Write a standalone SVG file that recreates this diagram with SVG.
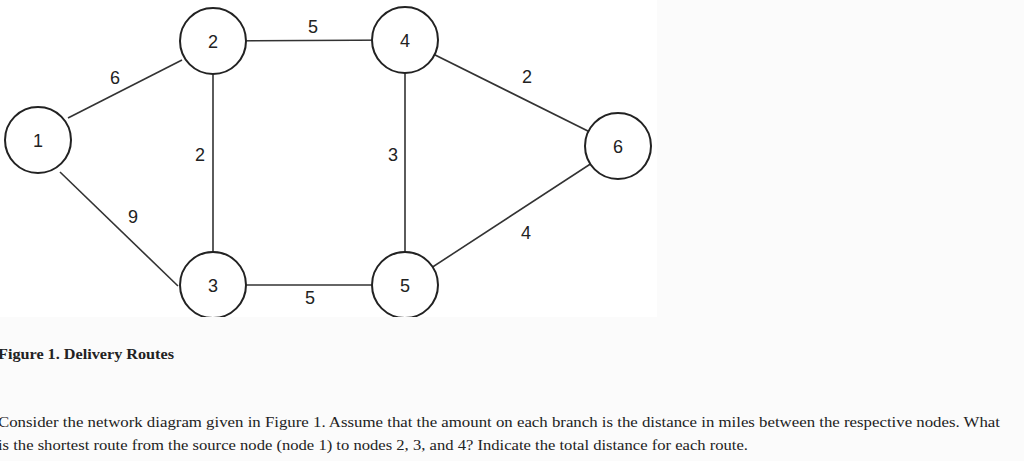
<svg xmlns="http://www.w3.org/2000/svg" width="1024" height="461" viewBox="0 0 1024 461">
<style>
.n{fill:#fff;stroke:#222;stroke-width:2}
.e{stroke:#333;stroke-width:1.6;fill:none}
.t{font-family:"Liberation Sans",Arial,sans-serif;font-size:18px;fill:#222;text-anchor:middle}
.p{font-family:"Liberation Serif","Times New Roman",serif;font-size:14.5px;fill:#222}
</style>
<defs><clipPath id="c"><rect x="0" y="0" width="657" height="317"/></clipPath></defs>
<rect width="1024" height="461" fill="#fbfbfb"/>
<g clip-path="url(#c)">
<rect width="657" height="317" fill="#fff"/>
<g id="connectors">
<line class="e" x1="68" y1="118" x2="182" y2="60"/>
<line class="e" x1="60" y1="172" x2="178" y2="286"/>
<line class="e" x1="213" y1="41" x2="405" y2="40"/>
<line class="e" x1="213" y1="41" x2="213" y2="285"/>
<line class="e" x1="213" y1="285" x2="405" y2="285"/>
<line class="e" x1="405" y1="40" x2="405" y2="285"/>
<line class="e" x1="405" y1="40" x2="618" y2="146"/>
<line class="e" x1="405" y1="285" x2="618" y2="146"/>
<text class="t" x="115" y="84">6</text>
<text class="t" x="133" y="223">9</text>
<text class="t" x="313" y="33">5</text>
<text class="t" x="200" y="161">2</text>
<text class="t" x="393" y="161">3</text>
<text class="t" x="310" y="304">5</text>
<text class="t" x="527" y="83">2</text>
<text class="t" x="526" y="239">4</text>
</g>
<g id="node1"><circle class="n" cx="38" cy="140" r="33"/><text class="t" x="38" y="147">1</text></g>
<g id="node2"><circle class="n" cx="213" cy="41" r="33"/><text class="t" x="213" y="48">2</text></g>
<g id="node4"><circle class="n" cx="405" cy="40" r="33"/><text class="t" x="405" y="47">4</text></g>
<g id="node6"><circle class="n" cx="618" cy="146" r="33"/><text class="t" x="618" y="153">6</text></g>
<g id="node3"><circle class="n" cx="213" cy="285" r="33"/><text class="t" x="213" y="292">3</text></g>
<g id="node5"><circle class="n" cx="405" cy="285" r="33"/><text class="t" x="405" y="292">5</text></g>
</g>
<text class="p" x="-2" y="359" font-weight="bold" font-size="16" textLength="176" lengthAdjust="spacingAndGlyphs">Figure 1. Delivery Routes</text>
<text class="p" x="-2" y="427" textLength="1002" lengthAdjust="spacingAndGlyphs">Consider the network diagram given in Figure 1. Assume that the amount on each branch is the distance in miles between the respective nodes. What</text>
<text class="p" x="-2" y="450" textLength="750" lengthAdjust="spacingAndGlyphs">is the shortest route from the source node (node 1) to nodes 2, 3, and 4? Indicate the total distance for each route.</text>
</svg>
